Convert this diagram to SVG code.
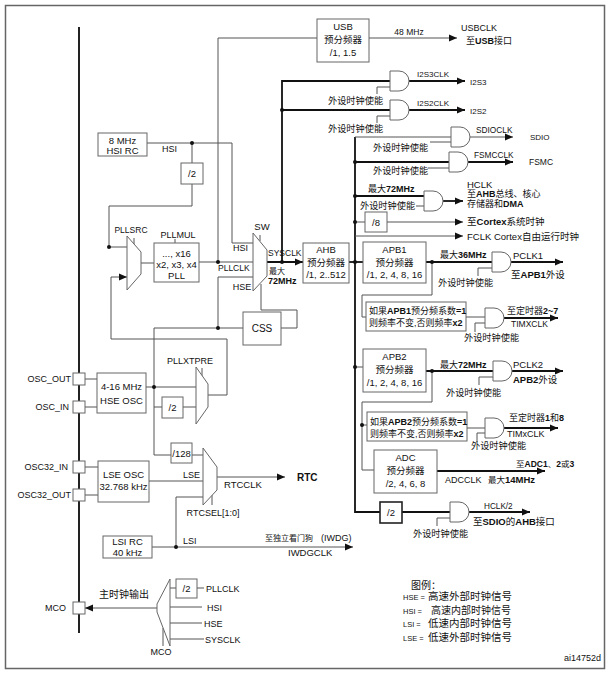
<svg xmlns="http://www.w3.org/2000/svg" width="611" height="675" viewBox="0 0 611 675">
<defs>
<style>
.f{fill:#fff;stroke:#666;stroke-width:1}
.fb{fill:#fff;stroke:#222;stroke-width:1.6}
.w{fill:none;stroke:#555;stroke-width:1}
.k{fill:none;stroke:#111;stroke-width:1.8}
.d{fill:#111}
text{font-family:'Liberation Sans','Noto Sans CJK SC',sans-serif;font-size:9px;fill:#111}
.c{text-anchor:middle}
.e{text-anchor:end}
.b{font-weight:bold}
.m{font-size:9.5px}
.z{font-size:9.2px}
.lg{font-size:7.5px}
.lc{font-size:10.5px}
</style>
<marker id="a" markerUnits="userSpaceOnUse" markerWidth="9" markerHeight="8" refX="8" refY="4" orient="auto"><path d="M0,0.5 L8,4 L0,7.5 z" fill="#111"/></marker>
</defs>
<rect width="611" height="675" fill="#fff"/>
<rect x="5.5" y="5.5" width="599" height="663" fill="none" stroke="#666" stroke-width="1.5"/>
<line x1="79" y1="27" x2="79" y2="633" stroke="#222" stroke-width="2"/>

<g id="connectors">
<path class="w" d="M147,143H232V243H253"/>
<path class="w" d="M192,143V163"/>
<path class="w" d="M192,184V206H109V247H127"/>
<path class="w" d="M141,263H154"/>
<path class="w" d="M199,262H253"/>
<path class="w" d="M218,262V38H317"/>
<path class="w" d="M85,379H97M85,407H97"/>
<path class="w" d="M146,387H196"/>
<path class="w" d="M154,328V455H171"/>
<path class="w" d="M154,407H162M183,407H196"/>
<path class="w" d="M154,328H243"/>
<path class="w" d="M218,328V277H253"/>
<path class="w" d="M208,395H227V339H111V277H127" marker-end="url(#a)"/>
<path class="w" d="M175,243V239M134,244V238M260,241V235M202,376V368"/>
<path class="w" d="M281,328H297V310H261V284"/>
<path class="w" d="M85,467H98M85,495H98"/>
<path class="w" d="M149,481H203M192,455H203"/>
<path class="w" d="M203,497H176V547"/>
<path class="w" d="M152,547H353" marker-end="url(#a)"/>
<path class="w" d="M217,477H285" marker-end="url(#a)"/>
<path class="w" d="M212,495V505"/>
<path class="w" d="M157,608H85" marker-end="url(#a)"/>
<path class="w" d="M170,588H176M197,588H204M170,607H202M170,623H202M170,639H204M163,628V646"/>
<path class="w" d="M369,38H457" marker-end="url(#a)"/>
<path class="k" d="M267,262H303" marker-end="url(#a)"/>
<path class="k" d="M282,262V81H390M282,110H390"/>
<path class="k" d="M409,81H465" marker-end="url(#a)"/>
<path class="k" d="M409,110H465" marker-end="url(#a)"/>
<path class="w" d="M377,94V87H390M377,123V116H390"/>
<path class="k" d="M349,262H363"/>
<path class="k" d="M355,137V512H380"/>
<path class="w" d="M355,137H451M430,142H451"/>
<path class="w" d="M470,137H513" marker-end="url(#a)"/>
<path class="k" d="M355,162H449"/>
<path class="w" d="M428,168H449"/>
<path class="k" d="M468,162H513" marker-end="url(#a)"/>
<path class="k" d="M355,196H424"/>
<path class="w" d="M416,206H424"/>
<path class="k" d="M443,201H463" marker-end="url(#a)"/>
<path class="w" d="M355,222H365"/>
<path class="w" d="M387,222H463" marker-end="url(#a)"/>
<path class="w" d="M355,236H463" marker-end="url(#a)"/>
<path class="k" d="M426,262H492"/>
<path class="w" d="M478,276V268H492"/>
<path class="k" d="M511,262H563" marker-end="url(#a)"/>
<path class="w" d="M432,262V295H362V317H366"/>
<path class="w" d="M466,317H485"/>
<path class="w" d="M475,332V323H485"/>
<path class="k" d="M504,318H558" marker-end="url(#a)"/>
<path class="w" d="M355,367H363"/>
<path class="k" d="M426,371H493"/>
<path class="w" d="M479,385V377H493"/>
<path class="k" d="M512,371H563" marker-end="url(#a)"/>
<path class="w" d="M432,371V402H362V470H374M362,425H367"/>
<path class="w" d="M467,428H485"/>
<path class="w" d="M477,442V433H485"/>
<path class="k" d="M504,428H558" marker-end="url(#a)"/>
<path class="k" d="M437,471H545" marker-end="url(#a)"/>
<path class="k" d="M402,512H450"/>
<path class="w" d="M437,526V518H450"/>
<path class="k" d="M469,512H530" marker-end="url(#a)"/>
<g class="d">
<circle cx="192" cy="143" r="2"/><circle cx="109" cy="247" r="2"/><circle cx="218" cy="262" r="2"/>
<circle cx="154" cy="387" r="2"/><circle cx="218" cy="328" r="2"/><circle cx="176" cy="547" r="2"/>
<circle cx="282" cy="262" r="2"/><circle cx="282" cy="110" r="2"/><circle cx="355" cy="262" r="2"/>
<circle cx="355" cy="162" r="2"/><circle cx="355" cy="196" r="2"/><circle cx="355" cy="222" r="2"/>
<circle cx="355" cy="367" r="2"/><circle cx="432" cy="262" r="2"/><circle cx="432" cy="371" r="2"/>
<circle cx="362" cy="425" r="2"/>
</g>
</g>

<g id="pins">
<rect class="f" x="73" y="373" width="12" height="12"/><text class="e" x="71" y="382">OSC_OUT</text>
<rect class="f" x="73" y="401" width="12" height="12"/><text class="e" x="69" y="410">OSC_IN</text>
<rect class="f" x="73" y="461" width="12" height="12"/><text class="e" x="68" y="470">OSC32_IN</text>
<rect class="f" x="73" y="489" width="12" height="12"/><text class="e" x="71" y="498">OSC32_OUT</text>
<rect class="f" x="73" y="602" width="12" height="12"/><text class="e" x="66" y="611">MCO</text>
</g>

<g id="hsi-rc"><rect class="f" x="98" y="133" width="49" height="23"/>
<text class="c m" x="122.5" y="144">8 MHz</text><text class="c m" x="122.5" y="154">HSI RC</text>
<text x="162" y="152">HSI</text></g>
<g id="hsi-div2"><rect class="f" x="181" y="163" width="22" height="21"/><text class="c m" x="192" y="177">/2</text></g>
<g id="pllsrc"><polygon class="f" points="127,236 141,252 141,274 127,290"/><text class="c" x="131" y="233" style="font-size:8.5px">PLLSRC</text></g>
<g id="pll"><rect class="f" x="154" y="243" width="45" height="39"/>
<text class="c" x="178" y="238">PLLMUL</text>
<text class="c m" x="176.5" y="257">..., x16</text><text class="c m" x="176.5" y="268">x2, x3, x4</text><text class="c m" x="176.5" y="279">PLL</text>
<text x="218" y="271" style="font-size:8.5px">PLLCLK</text></g>
<g id="sw"><polygon class="f" points="253,233 267,250 267,276 253,291"/>
<text class="c m" x="262" y="230">SW</text>
<text x="233" y="251">HSI</text><text class="c" x="242" y="290">HSE</text>
<text x="268" y="256" style="font-size:8.5px">SYSCLK</text>
<text class="c" x="277" y="274" style="font-size:8px">最大</text>
<text class="b" x="268" y="284">72MHz</text></g>
<g id="css"><rect class="f" x="243" y="312" width="38" height="33"/><text class="c" x="262" y="332" style="font-size:10px">CSS</text></g>
<g id="hse-osc"><rect class="f" x="97" y="373" width="49" height="40"/>
<text class="c m" x="121.5" y="390">4-16 MHz</text><text class="c m" x="121.5" y="404">HSE OSC</text></g>
<g id="hse-div2"><rect class="f" x="162" y="397" width="21" height="21"/><text class="c m" x="172.5" y="411">/2</text></g>
<g id="pllxtpre"><polygon class="f" points="196,367 208,384 208,407 196,424"/><text class="c" x="190" y="364">PLLXTPRE</text></g>
<g id="div128"><rect class="f" x="171" y="443" width="21" height="20"/><text class="c m" x="181.5" y="457">/128</text></g>
<g id="lse-osc"><rect class="f" x="98" y="461" width="51" height="41"/>
<text class="c m" x="123.5" y="478">LSE OSC</text><text class="c m" x="123.5" y="490">32.768 kHz</text>
<text x="183" y="478">LSE</text></g>
<g id="rtcsel"><polygon class="f" points="203,448 217,467 217,490 203,505"/>
<text class="c" x="213" y="516">RTCSEL[1:0]</text>
<text class="m" x="224" y="488">RTCCLK</text>
<text class="b" x="297" y="481" style="font-size:10px">RTC</text></g>
<g id="lsi-rc"><rect class="f" x="103" y="536" width="49" height="22"/>
<text class="c m" x="127.5" y="545">LSI RC</text><text class="c m" x="127.5" y="556">40 kHz</text>
<text x="183" y="544">LSI</text>
<text x="265" y="541" style="font-size:8px">至独立看门狗</text><text x="321" y="541">(IWDG)</text>
<text class="m" x="288" y="556">IWDGCLK</text></g>
<g id="mco"><polygon class="f" points="157,604 170,579 170,646 157,612"/>
<text x="99" y="598" style="font-size:10px">主时钟输出</text>
<rect class="f" x="176" y="579" width="21" height="19"/><text class="c m" x="186.5" y="592">/2</text>
<text x="206" y="592">PLLCLK</text><text x="207" y="611">HSI</text><text x="204" y="627">HSE</text><text x="205" y="643">SYSCLK</text>
<text class="c" x="161" y="655">MCO</text></g>

<g id="usb"><rect class="f" x="317" y="19" width="52" height="43"/>
<text class="c m" x="343" y="30">USB</text><text class="c m" x="343" y="43">预分频器</text><text class="c m" x="343" y="56">/1, 1.5</text>
<text class="c" x="409" y="35" style="font-size:8.5px">48 MHz</text>
<text x="461" y="31">USBCLK</text><text x="466" y="44">至<tspan class="b">USB</tspan>接口</text></g>
<g id="i2s3"><path class="f" d="M390,71h9a10,10 0 0 1 0,20h-9z"/>
<text x="417" y="77" style="font-size:8px">I2S3CLK</text><text x="470" y="85" style="font-size:8px">I2S3</text>
<text class="z" x="328" y="104">外设时钟使能</text></g>
<g id="i2s2"><path class="f" d="M390,100h9a10,10 0 0 1 0,20h-9z"/>
<text x="417" y="106" style="font-size:8px">I2S2CLK</text><text x="470" y="114" style="font-size:8px">I2S2</text>
<text class="z" x="328" y="132">外设时钟使能</text></g>
<g id="sdio"><path class="f" d="M451,127h9a10,10 0 0 1 0,20h-9z"/>
<text x="476" y="133" style="font-size:8.3px">SDIOCLK</text><text x="530" y="140" style="font-size:8px">SDIO</text>
<text class="z" x="373" y="151">外设时钟使能</text></g>
<g id="fsmc"><path class="f" d="M449,152h9a10,10 0 0 1 0,20h-9z"/>
<text x="474" y="158" style="font-size:8.3px">FSMCCLK</text><text x="529" y="165" style="font-size:8.5px">FSMC</text>
<text class="z" x="373" y="174">外设时钟使能</text></g>
<g id="hclk"><path class="f" d="M424,191h9a10,10 0 0 1 0,20h-9z"/>
<text x="368" y="192">最大<tspan class="b">72MHz</tspan></text>
<text class="z" x="360" y="209">外设时钟使能</text>
<text class="m" x="467" y="188">HCLK</text><text x="467" y="197">至<tspan class="b">AHB</tspan>总线、核心</text><text x="467" y="207">存储器和<tspan class="b">DMA</tspan></text></g>
<g id="div8"><rect class="f" x="365" y="212" width="22" height="20"/><text class="c m" x="376" y="226">/8</text>
<text class="m" x="467" y="225">至<tspan class="b">Cortex</tspan>系统时钟</text></g>
<g id="fclk"><text class="m" x="467" y="240">FCLK Cortex自由运行时钟</text></g>
<g id="ahb"><rect class="f" x="303" y="243" width="46" height="40"/>
<text class="c m" x="326" y="253">AHB</text><text class="c m" x="326" y="266">预分频器</text><text class="c m" x="326" y="278">/1, 2..512</text></g>
<g id="apb1"><rect class="f" x="363" y="242" width="63" height="41"/>
<text class="c m" x="394.5" y="253">APB1</text><text class="c m" x="394.5" y="266">预分频器</text><text class="c m" x="394.5" y="278">/1, 2, 4, 8, 16</text></g>
<g id="pclk1"><path class="f" d="M492,252h9a10,10 0 0 1 0,20h-9z"/>
<text x="440" y="258">最大<tspan class="b">36MHz</tspan></text>
<text class="m" x="513" y="259">PCLK1</text><text class="m" x="511" y="278">至<tspan class="b">APB1</tspan>外设</text>
<text class="z" x="438" y="286">外设时钟使能</text></g>
<g id="apb1-x2"><rect class="f" x="366" y="302" width="100" height="29"/>
<text x="369" y="314">如果<tspan class="b">APB1</tspan>预分频系数<tspan class="b">=1</tspan></text>
<text x="369" y="326">则频率不变,否则频率<tspan class="b">x2</tspan></text></g>
<g id="timxclk"><path class="f" d="M485,308h9a10,10 0 0 1 0,20h-9z"/>
<text x="507" y="314">至定时器<tspan class="b">2~7</tspan></text><text x="511" y="327" style="font-size:8.5px">TIMXCLK</text>
<text class="z" x="464" y="341">外设时钟使能</text></g>
<g id="apb2"><rect class="f" x="363" y="349" width="63" height="43"/>
<text class="c m" x="394.5" y="360">APB2</text><text class="c m" x="394.5" y="373">预分频器</text><text class="c m" x="394.5" y="386">/1, 2, 4, 8, 16</text></g>
<g id="pclk2"><path class="f" d="M493,361h9a10,10 0 0 1 0,20h-9z"/>
<text x="440" y="368">最大<tspan class="b">72MHz</tspan></text>
<text class="m" x="513" y="368">PCLK2</text><text class="m" x="513" y="383"><tspan class="b">APB2</tspan>外设</text>
<text class="z" x="446" y="396">外设时钟使能</text></g>
<g id="apb2-x2"><rect class="f" x="367" y="412" width="100" height="29"/>
<text x="370" y="425">如果<tspan class="b">APB2</tspan>预分频系数<tspan class="b">=1</tspan></text>
<text x="370" y="437">则频率不变,否则频率<tspan class="b">x2</tspan></text></g>
<g id="timxclk2"><path class="f" d="M485,418h9a10,10 0 0 1 0,20h-9z"/>
<text x="509" y="421">至定时器<tspan class="b">1</tspan>和<tspan class="b">8</tspan></text><text x="507" y="437">TIMxCLK</text>
<text class="z" x="471" y="449">外设时钟使能</text></g>
<g id="adc"><rect class="f" x="374" y="450" width="63" height="43"/>
<text class="c m" x="405.5" y="461">ADC</text><text class="c m" x="405.5" y="474">预分频器</text><text class="c m" x="405.5" y="487">/2, 4, 6, 8</text>
<text x="516" y="467" style="font-size:8.5px">至<tspan class="b">ADC1</tspan>、<tspan class="b">2</tspan>或<tspan class="b">3</tspan></text>
<text x="445" y="483">ADCCLK</text><text x="488" y="483" style="font-size:8.5px">最大</text><text class="b" x="505" y="483" style="font-size:9.5px">14MHz</text></g>
<g id="hclk2"><rect class="fb" x="380" y="502" width="22" height="21"/><text class="c m" x="391" y="516">/2</text>
<path class="f" d="M450,502h9a10,10 0 0 1 0,20h-9z"/>
<text x="484" y="509" style="font-size:8.2px">HCLK/2</text>
<text class="m" x="473" y="525">至<tspan class="b">SDIO</tspan>的<tspan class="b">AHB</tspan>接口</text>
<text class="z" x="413" y="537">外设时钟使能</text></g>

<g id="legend">
<text x="411" y="589" style="font-size:10px">图例：</text>
<text class="lg" x="403" y="600">HSE =</text><text class="lc" x="428" y="600">高速外部时钟信号</text>
<text class="lg" x="403" y="614">HSI =</text><text class="lc" x="431" y="614" style="font-size:10px">高速内部时钟信号</text>
<text class="lg" x="403" y="627">LSI =</text><text class="lc" x="428" y="627">低速内部时钟信号</text>
<text class="lg" x="403" y="641">LSE =</text><text class="lc" x="428" y="641">低速外部时钟信号</text>
<text x="564" y="661">ai14752d</text>
</g>
</svg>
